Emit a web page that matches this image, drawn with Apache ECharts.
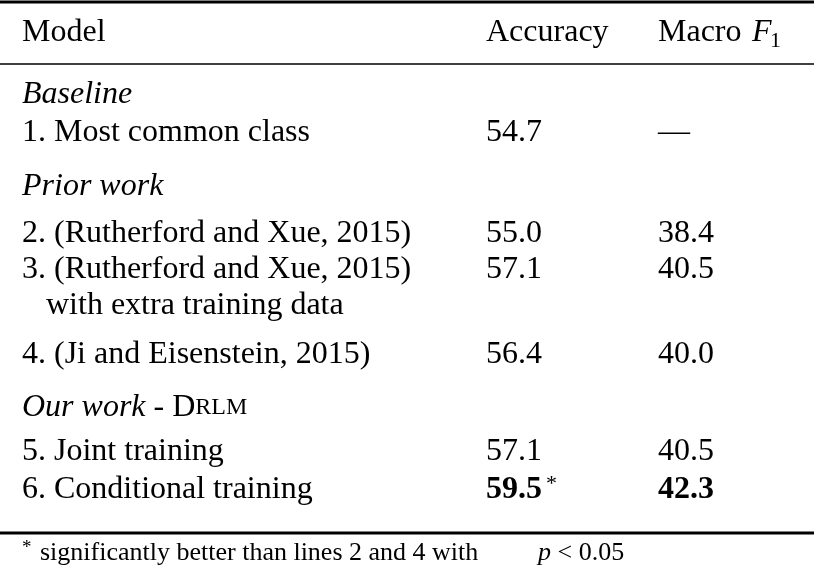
<!DOCTYPE html>
<html><head><meta charset="utf-8">
<script src="https://cdn.jsdelivr.net/npm/echarts@6/dist/echarts.min.js"></script>
<style>html,body{margin:0;padding:0;background:#fff}#c{width:814px;height:572px}</style>
</head><body><div id="c"></div>
<script>
const headers = ["Model", "Accuracy", "Macro"];
const rowLabels = ["Baseline", "1. Most common class", "Prior work", "2. (Rutherford and Xue, 2015)", "3. (Rutherford and Xue, 2015)", "   with extra training data", "4. (Ji and Eisenstein, 2015)", "Our work", "5. Joint training", "6. Conditional training"];
const rowKinds = ["section", "row", "section", "row", "row", "row", "row", "section", "row", "row"];
const accuracy = ["", "54.7", "", "55.0", "57.1", "", "56.4", "", "57.1", "59.5"];
const macroF1 = ["", "—", "", "38.4", "40.5", "", "40.0", "", "40.5", "42.3"];
const boldRow = 9;
const rowY = [95, 133, 187, 234, 270, 306, 355, 408, 452, 490];
const footnote = "significantly better than lines 2 and 4 with ";

const F = "'Liberation Serif', 'DejaVu Serif', serif";
const S = 32;
const chart = echarts.init(document.getElementById('c'));
const els = [];
function txt(x, y, t, o) {
  els.push({type:'text', x, y, style:Object.assign({text:t, font:S + 'px ' + F, fill:'#000', textVerticalAlign:'middle'}, o||{})});
}
function line(y, w) {
  els.push({type:'line', shape:{x1:0,y1:y,x2:814,y2:y}, style:{stroke:'#000', lineWidth:w}});
}
line(2, 3); line(64, 1.5); line(533, 3);
txt(22, 33, headers[0]); txt(486, 33, headers[1]); txt(658, 33, headers[2]);
txt(752, 33, 'F', {font:'italic ' + S + 'px ' + F});
txt(770, 41, '1', {font:'22px ' + F});
rowLabels.forEach((l, i) => {
  const y = rowY[i];
  if (rowKinds[i] === 'section') {
    if (l === 'Our work') {
      els.push({type:'text', x:22, y, style:{text:'{i|Our work}{n| - D}{s|RLM}', textVerticalAlign:'middle', fill:'#000', font:S + 'px ' + F,
        rich:{i:{font:'italic ' + S + 'px ' + F}, n:{font:S + 'px ' + F}, s:{font:'24px ' + F}}}});
    } else txt(22, y, l, {font:'italic ' + S + 'px ' + F});
  } else {
    txt(l.startsWith(' ') ? 46 : 22, y, l.replace(/^ +/, ''));
  }
  const b = i === boldRow ? 'bold ' : '';
  if (accuracy[i]) txt(486, y, accuracy[i], {font:b + S + 'px ' + F});
  if (macroF1[i]) txt(658, y, macroF1[i], {font:b + S + 'px ' + F});
});
txt(546, 484, '*', {font:'22px ' + F});
txt(22, 548, '*', {font:'19px ' + F});
txt(40, 553, footnote, {font:'26px ' + F});
els.push({type:'text', x:538, y:553, style:{text:'{i|p} < 0.05', textVerticalAlign:'middle', fill:'#000', font:'26px ' + F, rich:{i:{font:'italic 26px ' + F}}}});
chart.setOption({animation:false, graphic:{elements:els}});
</script></body></html>
